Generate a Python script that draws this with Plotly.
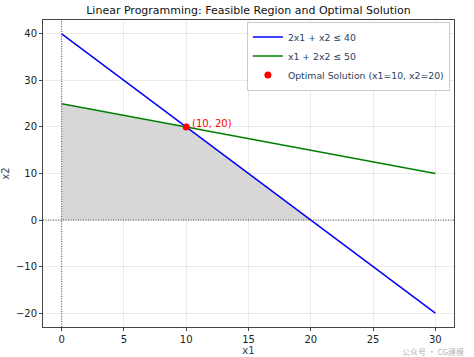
import plotly.graph_objects as go

x_vals = [0, 30]
line1_y = [40, -20]   # 2x1 + x2 <= 40
line2_y = [25, 10]    # x1 + 2x2 <= 50
region_x = [0, 0, 10, 20, 0]
region_y = [0, 25, 20, 0, 0]
opt_x = [10]
opt_y = [20]
x_ticks = [0, 5, 10, 15, 20, 25, 30]
y_ticks = [-20, -10, 0, 10, 20, 30, 40]

font = "DejaVu Sans"
W, H = 474, 357
ML, MR, MT, MB = 43, 20, 20, 30

fig = go.Figure()
fig.add_trace(go.Scatter(x=region_x, y=region_y, fill="toself", fillcolor="rgba(211,211,211,0.9)",
                         line=dict(width=0), mode="lines", showlegend=False, hoverinfo="skip"))
fig.add_trace(go.Scatter(x=x_vals, y=line1_y, mode="lines", line=dict(color="blue", width=1.5),
                         name="2x1 + x2 ≤ 40"))
fig.add_trace(go.Scatter(x=x_vals, y=line2_y, mode="lines", line=dict(color="green", width=1.5),
                         name="x1 + 2x2 ≤ 50"))
fig.add_trace(go.Scatter(x=opt_x, y=opt_y, mode="markers", marker=dict(color="red", size=7),
                         name="Optimal Solution (x1=10, x2=20)"))
fig.add_annotation(x=opt_x[0], y=opt_y[0], text=f"({opt_x[0]}, {opt_y[0]})", showarrow=False,
                   xanchor="left", yanchor="bottom", xshift=4, yshift=-4,
                   font=dict(color="red", size=10, family=font))
fig.add_shape(type="line", x0=0, x1=0, y0=0, y1=1, xref="x", yref="paper",
              line=dict(color="#333", width=0.8, dash="1px,1.5px"))
fig.add_shape(type="line", x0=0, x1=1, y0=0, y1=0, xref="paper", yref="y",
              line=dict(color="#333", width=0.8, dash="1px,1.5px"))

pw, ph = W - ML - MR, H - MT - MB
fig.add_annotation(x=(466 - ML) / pw, y=(H - MB - 351) / ph, xref="paper", yref="paper",
                   text="公众号 · CG建模", showarrow=False, xanchor="right", yanchor="middle",
                   font=dict(color="rgba(150,150,150,0.75)", size=8, family="Noto Sans CJK SC"))

axis_common = dict(showline=True, linecolor="#444", linewidth=1, mirror=True,
                   showgrid=True, gridcolor="rgba(0,0,0,0.08)", zeroline=False,
                   ticks="outside", ticklen=3, tickcolor="#444", automargin=False,
                   tickfont=dict(size=10, family=font, color="#222"))
fig.update_xaxes(range=[-1.5, 31.5], tickvals=x_ticks,
                 title=dict(text="x1", font=dict(size=10, family=font), standoff=2), **axis_common)
fig.update_yaxes(range=[-23, 43], tickvals=y_ticks,
                 title=dict(text="x2", font=dict(size=10, family=font), standoff=8), **axis_common)
fig.update_layout(
    width=W, height=H,
    margin=dict(l=ML, r=MR, t=MT, b=MB),
    plot_bgcolor="white", paper_bgcolor="white",
    title=dict(text="Linear Programming: Feasible Region and Optimal Solution",
               xref="paper", x=0.5, xanchor="center", yref="container", y=1 - 10.5 / H,
               yanchor="middle", font=dict(size=11, family=font, color="#111")),
    legend=dict(x=0.99, y=0.995, xanchor="right", yanchor="top",
                bgcolor="rgba(255,255,255,0.9)", bordercolor="#ccc", borderwidth=1,
                font=dict(size=9.3, family=font), itemwidth=30, tracegroupgap=0),
)
fig.write_html("out.html", config={"displayModeBar": False},
               post_script="document.body.style.margin='0';")
